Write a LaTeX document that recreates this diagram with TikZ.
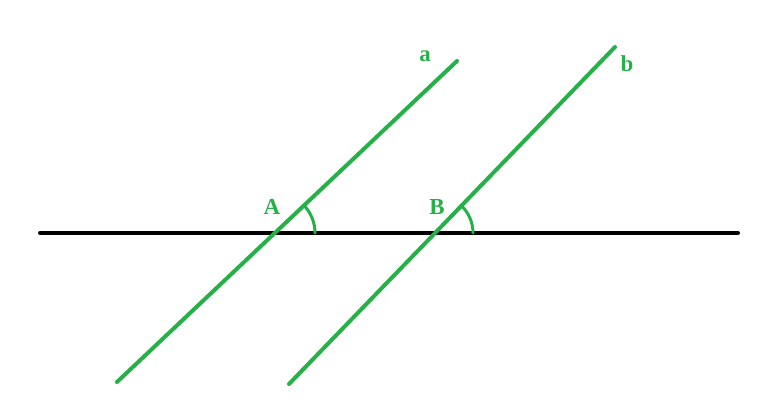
\documentclass[tikz,border=0pt]{standalone}
\usepackage{fontspec}
\setmainfont{Liberation Serif}
\definecolor{linegreen}{RGB}{38,176,72}
\tikzset{
    greenline/.style={line width=4bp, linegreen, line cap=round},
    lbl/.style={text=linegreen, font=\fontsize{23}{26}\selectfont\bfseries, inner sep=0pt}
}
\begin{document}
\begin{tikzpicture}[x=1bp, y=1bp]
    \useasboundingbox (0,0) rectangle (768,417);
    % End points of the lines
    \coordinate (h1) at (40,184);
    \coordinate (h2) at (738,184);
    \coordinate (a1) at (117,35);
    \coordinate (a2) at (457,356);
    \coordinate (b1) at (289,33);
    \coordinate (b2) at (615,370);
    \coordinate (pA) at (275,184);
    \coordinate (pB) at (435,184);

    % Horizontal line
    \draw[line width=4bp, black, line cap=round] (h1) -- (h2);

    % Parallel lines a and b
    \draw[greenline] (a1) -- (a2);
    \draw[greenline] (b1) -- (b2);

    % Angles
    \draw[greenline, line width=3bp] (pA) ++(40,0) arc[start angle=0, end angle=43, radius=40];
    \draw[greenline, line width=3bp] (pB) ++(38,0) arc[start angle=0, end angle=46, radius=38];

    % Labels
    \node[lbl] (la) at (425,361) {a};
    \node[lbl] (lb) at (627,353) {b};
    \node[lbl] (lA) at (272,210) {A};
    \node[lbl] (lB) at (437,210) {B};
\end{tikzpicture}
\end{document}
